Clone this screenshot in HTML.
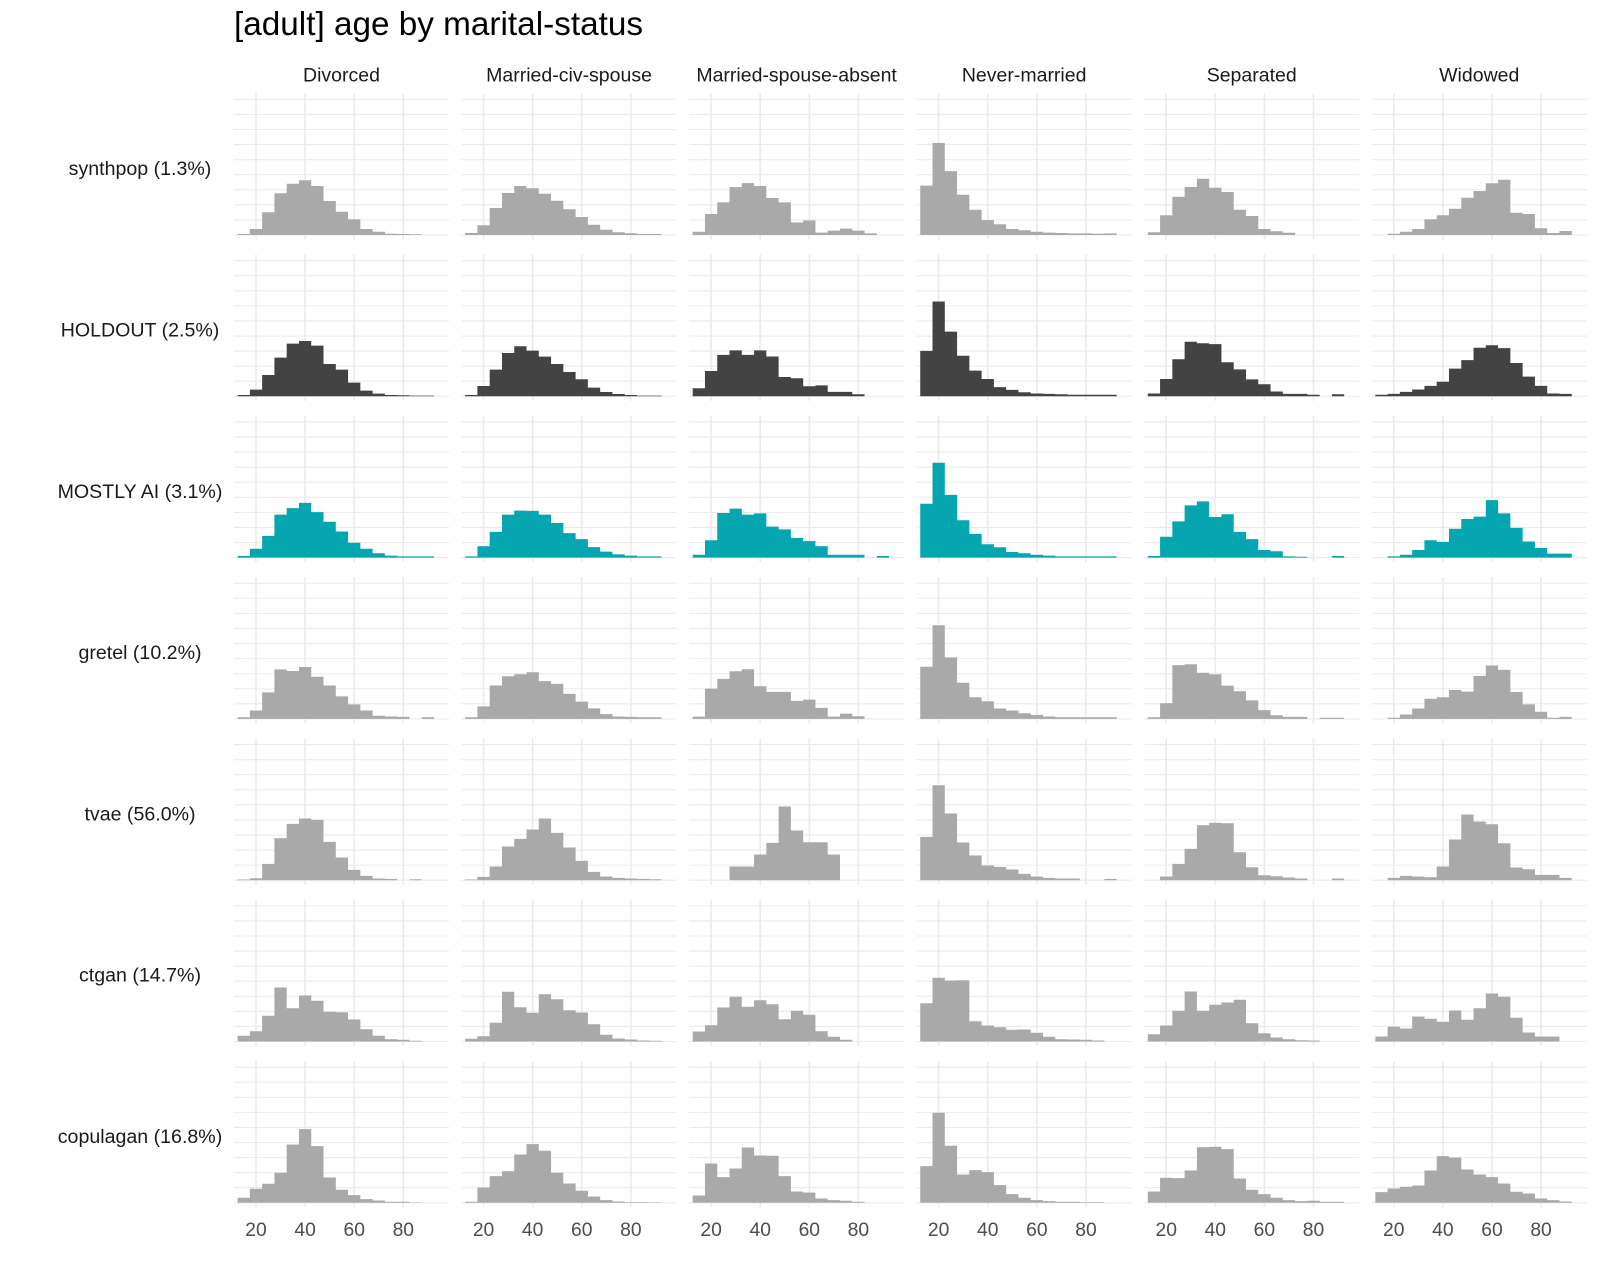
<!DOCTYPE html>
<html>
<head>
<meta charset="utf-8">
<style>
html,body{margin:0;padding:0;background:#fff;}
svg{display:block;}
text{font-family:"Liberation Sans",Arial,Helvetica,sans-serif;}
.h{stroke:#ebebeb;stroke-width:1.1;fill:none;}
.v{stroke:#ebebeb;stroke-width:1.6;fill:none;}
.s{fill:#a9a9a9;}
.d{fill:#434343;}
.m{fill:#05a6b0;}
.strip{font-size:19.5px;fill:#1a1a1a;text-anchor:middle;}
.row{font-size:19.6px;fill:#1a1a1a;text-anchor:middle;}
.tick{font-size:19.3px;fill:#4d4d4d;text-anchor:middle;}
</style>
</head>
<body>
<svg width="1600" height="1280" viewBox="0 0 1600 1280" xmlns="http://www.w3.org/2000/svg">
<rect width="1600" height="1280" fill="#fff"/>
<text x="234" y="35" font-size="33.3" fill="#000">[adult] age by marital-status</text>

<text class="strip" x="341.5" y="81.5">Divorced</text>
<text class="strip" x="569.05" y="81.5">Married-civ-spouse</text>
<text class="strip" x="796.6" y="81.5">Married-spouse-absent</text>
<text class="strip" x="1024.15" y="81.5">Never-married</text>
<text class="strip" x="1251.7" y="81.5">Separated</text>
<text class="strip" x="1479.25" y="81.5">Widowed</text>

<text class="row" x="140" y="175.2">synthpop (1.3%)</text>
<text class="row" x="140" y="336.5">HOLDOUT (2.5%)</text>
<text class="row" x="140" y="497.8">MOSTLY AI (3.1%)</text>
<text class="row" x="140" y="659.1">gretel (10.2%)</text>
<text class="row" x="140" y="820.4">tvae (56.0%)</text>
<text class="row" x="140" y="981.7">ctgan (14.7%)</text>
<text class="row" x="140" y="1143">copulagan (16.8%)</text>

<!-- Row 1 synthpop -->
<g transform="translate(256,235)"><path class="h" d="M-22 0H193M-22 -15.07H193M-22 -30.14H193M-22 -45.21H193M-22 -60.28H193M-22 -75.35H193M-22 -90.42H193M-22 -105.49H193M-22 -120.56H193M-22 -135.63H193"/><path class="v" d="M0 -141.7V4.4M49.1 -141.7V4.4M98.2 -141.7V4.4M147.3 -141.7V4.4"/><path class="s" transform="translate(-18.41 0) scale(12.275 -1)" d="M0 0V1H1V6H2V22.7H3V41.7H4V51.3H5V54.7H6V49H7V34H8V23.3H9V15.7H10V6H11V3.3H12V1.3H13V1H14V0.7H15V0H16V0Z"/></g>
<g transform="translate(483.55,235)"><path class="h" d="M-22 0H193M-22 -15.07H193M-22 -30.14H193M-22 -45.21H193M-22 -60.28H193M-22 -75.35H193M-22 -90.42H193M-22 -105.49H193M-22 -120.56H193M-22 -135.63H193"/><path class="v" d="M0 -141.7V4.4M49.1 -141.7V4.4M98.2 -141.7V4.4M147.3 -141.7V4.4"/><path class="s" transform="translate(-18.41 0) scale(12.275 -1)" d="M0 0V2H1V9.7H2V27H3V42H4V49H5V46.7H6V41.3H7V34.3H8V25.7H9V18H10V10.3H11V5.3H12V2.7H13V1.7H14V1H15V1H16V0Z"/></g>
<g transform="translate(711.1,235)"><path class="h" d="M-22 0H193M-22 -15.07H193M-22 -30.14H193M-22 -45.21H193M-22 -60.28H193M-22 -75.35H193M-22 -90.42H193M-22 -105.49H193M-22 -120.56H193M-22 -135.63H193"/><path class="v" d="M0 -141.7V4.4M49.1 -141.7V4.4M98.2 -141.7V4.4M147.3 -141.7V4.4"/><path class="s" transform="translate(-18.41 0) scale(12.275 -1)" d="M0 0V3.2H1V21H2V32.6H3V47.9H4V51.9H5V49H6V37H7V32.6H8V12.5H9V14.5H10V2.4H11V4.4H12V6.4H13V4.4H14V1.6H15V0Z"/></g>
<g transform="translate(938.65,235)"><path class="h" d="M-22 0H193M-22 -15.07H193M-22 -30.14H193M-22 -45.21H193M-22 -60.28H193M-22 -75.35H193M-22 -90.42H193M-22 -105.49H193M-22 -120.56H193M-22 -135.63H193"/><path class="v" d="M0 -141.7V4.4M49.1 -141.7V4.4M98.2 -141.7V4.4M147.3 -141.7V4.4"/><path class="s" transform="translate(-18.41 0) scale(12.275 -1)" d="M0 0V49.4H1V92H2V63.9H3V40.2H4V25.3H5V14.9H6V10.8H7V6H8V4.8H9V3.2H10V2.4H11V2H12V1.6H13V1.6H14V1.2H15V1.6H16V0Z"/></g>
<g transform="translate(1166.2,235)"><path class="h" d="M-22 0H193M-22 -15.07H193M-22 -30.14H193M-22 -45.21H193M-22 -60.28H193M-22 -75.35H193M-22 -90.42H193M-22 -105.49H193M-22 -120.56H193M-22 -135.63H193"/><path class="v" d="M0 -141.7V4.4M49.1 -141.7V4.4M98.2 -141.7V4.4M147.3 -141.7V4.4"/><path class="s" transform="translate(-18.41 0) scale(12.275 -1)" d="M0 0V2.7H1V19.7H2V38.3H3V48H4V56.3H5V47.3H6V43H7V25.3H8V19H9V6H10V3.7H11V2.3H12V0Z"/></g>
<g transform="translate(1393.75,235)"><path class="h" d="M-22 0H193M-22 -15.07H193M-22 -30.14H193M-22 -45.21H193M-22 -60.28H193M-22 -75.35H193M-22 -90.42H193M-22 -105.49H193M-22 -120.56H193M-22 -135.63H193"/><path class="v" d="M0 -141.7V4.4M49.1 -141.7V4.4M98.2 -141.7V4.4M147.3 -141.7V4.4"/><path class="s" transform="translate(-18.41 0) scale(12.275 -1)" d="M1 0V1.3H2V3.3H3V6H4V15.7H5V19.7H6V26.3H7V37.3H8V44H9V51.7H10V55.3H11V22.3H12V21H13V6.7H14V2H15V4H16V0Z"/></g>

<!-- Row 2 HOLDOUT -->
<g transform="translate(256,396.3)"><path class="h" d="M-22 0H193M-22 -15.07H193M-22 -30.14H193M-22 -45.21H193M-22 -60.28H193M-22 -75.35H193M-22 -90.42H193M-22 -105.49H193M-22 -120.56H193M-22 -135.63H193"/><path class="v" d="M0 -141.7V4.4M49.1 -141.7V4.4M98.2 -141.7V4.4M147.3 -141.7V4.4"/><path class="d" transform="translate(-18.41 0) scale(12.275 -1)" d="M0 0V1.3H1V6.7H2V21.3H3V38.7H4V52.7H5V55.3H6V50.7H7V32.3H8V26.7H9V13.7H10V5.7H11V2.7H12V1.3H13V1H14V0.7H16V0Z"/></g>
<g transform="translate(483.55,396.3)"><path class="h" d="M-22 0H193M-22 -15.07H193M-22 -30.14H193M-22 -45.21H193M-22 -60.28H193M-22 -75.35H193M-22 -90.42H193M-22 -105.49H193M-22 -120.56H193M-22 -135.63H193"/><path class="v" d="M0 -141.7V4.4M49.1 -141.7V4.4M98.2 -141.7V4.4M147.3 -141.7V4.4"/><path class="d" transform="translate(-18.41 0) scale(12.275 -1)" d="M0 0V1.3H1V10.3H2V26.7H3V43.3H4V50H5V45.7H6V39.7H7V32.3H8V24.3H9V17H10V8.7H11V4.3H12V2.3H13V1.3H14V0.7H16V0Z"/></g>
<g transform="translate(711.1,396.3)"><path class="h" d="M-22 0H193M-22 -15.07H193M-22 -30.14H193M-22 -45.21H193M-22 -60.28H193M-22 -75.35H193M-22 -90.42H193M-22 -105.49H193M-22 -120.56H193M-22 -135.63H193"/><path class="v" d="M0 -141.7V4.4M49.1 -141.7V4.4M98.2 -141.7V4.4M147.3 -141.7V4.4"/><path class="d" transform="translate(-18.41 0) scale(12.275 -1)" d="M0 0V8H1V25.3H2V41.4H3V45.9H4V41.4H5V45.9H6V39.8H7V19.3H8V18.1H9V10H10V10.9H11V4.4H13V2H14V0Z"/></g>
<g transform="translate(938.65,396.3)"><path class="h" d="M-22 0H193M-22 -15.07H193M-22 -30.14H193M-22 -45.21H193M-22 -60.28H193M-22 -75.35H193M-22 -90.42H193M-22 -105.49H193M-22 -120.56H193M-22 -135.63H193"/><path class="v" d="M0 -141.7V4.4M49.1 -141.7V4.4M98.2 -141.7V4.4M147.3 -141.7V4.4"/><path class="d" transform="translate(-18.41 0) scale(12.275 -1)" d="M0 0V45.4H1V94.8H2V64.7H3V40.6H4V25.7H5V17.3H6V9.2H7V6.4H8V4H9V2.8H10V2.4H11V2H12V1.6H16V0Z"/></g>
<g transform="translate(1166.2,396.3)"><path class="h" d="M-22 0H193M-22 -15.07H193M-22 -30.14H193M-22 -45.21H193M-22 -60.28H193M-22 -75.35H193M-22 -90.42H193M-22 -105.49H193M-22 -120.56H193M-22 -135.63H193"/><path class="v" d="M0 -141.7V4.4M49.1 -141.7V4.4M98.2 -141.7V4.4M147.3 -141.7V4.4"/><path class="d" transform="translate(-18.41 0) scale(12.275 -1)" d="M0 0V2.8H1V17.3H2V37H3V54.6H4V53H5V52.2H6V34.1H7V26.9H8V16.9H9V12H10V4.8H11V2.4H13V1.6H14V0H15V2H16V0Z"/></g>
<g transform="translate(1393.75,396.3)"><path class="h" d="M-22 0H193M-22 -15.07H193M-22 -30.14H193M-22 -45.21H193M-22 -60.28H193M-22 -75.35H193M-22 -90.42H193M-22 -105.49H193M-22 -120.56H193M-22 -135.63H193"/><path class="v" d="M0 -141.7V4.4M49.1 -141.7V4.4M98.2 -141.7V4.4M147.3 -141.7V4.4"/><path class="d" transform="translate(-18.41 0) scale(12.275 -1)" d="M0 0V1.6H1V2.4H2V4.4H3V6.8H4V10.4H5V14.5H6V27.7H7V36.2H8V48.6H9V51H10V48.2H11V33.3H12V19.7H13V10.4H14V2.8H15V2.4H16V0Z"/></g>

<!-- Row 3 MOSTLY AI -->
<g transform="translate(256,557.6)"><path class="h" d="M-22 0H193M-22 -15.07H193M-22 -30.14H193M-22 -45.21H193M-22 -60.28H193M-22 -75.35H193M-22 -90.42H193M-22 -105.49H193M-22 -120.56H193M-22 -135.63H193"/><path class="v" d="M0 -141.7V4.4M49.1 -141.7V4.4M98.2 -141.7V4.4M147.3 -141.7V4.4"/><path class="m" transform="translate(-18.41 0) scale(12.275 -1)" d="M0 0V1.6H1V8.8H2V21.7H3V43H4V49.5H5V54.7H6V45.5H7V35.8H8V26.1H9V14.9H10V8.8H11V4.4H12V2H13V1.2H16V0Z"/></g>
<g transform="translate(483.55,557.6)"><path class="h" d="M-22 0H193M-22 -15.07H193M-22 -30.14H193M-22 -45.21H193M-22 -60.28H193M-22 -75.35H193M-22 -90.42H193M-22 -105.49H193M-22 -120.56H193M-22 -135.63H193"/><path class="v" d="M0 -141.7V4.4M49.1 -141.7V4.4M98.2 -141.7V4.4M147.3 -141.7V4.4"/><path class="m" transform="translate(-18.41 0) scale(12.275 -1)" d="M0 0V1.2H1V11.3H2V25.7H3V43H4V47H5V46.7H6V43H7V34.6H8V24.5H9V18.5H10V10.5H11V6H12V3.2H13V2H14V1.2H16V0Z"/></g>
<g transform="translate(711.1,557.6)"><path class="h" d="M-22 0H193M-22 -15.07H193M-22 -30.14H193M-22 -45.21H193M-22 -60.28H193M-22 -75.35H193M-22 -90.42H193M-22 -105.49H193M-22 -120.56H193M-22 -135.63H193"/><path class="v" d="M0 -141.7V4.4M49.1 -141.7V4.4M98.2 -141.7V4.4M147.3 -141.7V4.4"/><path class="m" transform="translate(-18.41 0) scale(12.275 -1)" d="M0 0V2.8H1V17.3H2V44.6H3V49H4V43H5V44.2H6V31H7V28.2H8V19.7H9V16.5H10V11.3H11V2.8H14V0H15V1.6H16V0Z"/></g>
<g transform="translate(938.65,557.6)"><path class="h" d="M-22 0H193M-22 -15.07H193M-22 -30.14H193M-22 -45.21H193M-22 -60.28H193M-22 -75.35H193M-22 -90.42H193M-22 -105.49H193M-22 -120.56H193M-22 -135.63H193"/><path class="v" d="M0 -141.7V4.4M49.1 -141.7V4.4M98.2 -141.7V4.4M147.3 -141.7V4.4"/><path class="m" transform="translate(-18.41 0) scale(12.275 -1)" d="M0 0V53.8H1V94.8H2V62.7H3V37.4H4V23.7H5V13.3H6V10.4H7V5.6H8V4.4H9V2.8H10V2H11V1.2H16V0Z"/></g>
<g transform="translate(1166.2,557.6)"><path class="h" d="M-22 0H193M-22 -15.07H193M-22 -30.14H193M-22 -45.21H193M-22 -60.28H193M-22 -75.35H193M-22 -90.42H193M-22 -105.49H193M-22 -120.56H193M-22 -135.63H193"/><path class="v" d="M0 -141.7V4.4M49.1 -141.7V4.4M98.2 -141.7V4.4M147.3 -141.7V4.4"/><path class="m" transform="translate(-18.41 0) scale(12.275 -1)" d="M0 0V1.6H1V20.9H2V36.2H3V52.2H4V56.2H5V40.6H6V43.4H7V25.7H8V18.5H9V7.6H10V6.4H11V1.2H12V0.8H13V0H15V1.6H16V0Z"/></g>
<g transform="translate(1393.75,557.6)"><path class="h" d="M-22 0H193M-22 -15.07H193M-22 -30.14H193M-22 -45.21H193M-22 -60.28H193M-22 -75.35H193M-22 -90.42H193M-22 -105.49H193M-22 -120.56H193M-22 -135.63H193"/><path class="v" d="M0 -141.7V4.4M49.1 -141.7V4.4M98.2 -141.7V4.4M147.3 -141.7V4.4"/><path class="m" transform="translate(-18.41 0) scale(12.275 -1)" d="M1 0V1.2H2V2.8H3V7.6H4V17.3H5V15.7H6V28.9H7V38.6H8V41H9V57.5H10V44.2H11V29.7H12V16.1H13V9.6H14V4H16V0Z"/></g>

<!-- Row 4 gretel -->
<g transform="translate(256,718.9)"><path class="h" d="M-22 0H193M-22 -15.07H193M-22 -30.14H193M-22 -45.21H193M-22 -60.28H193M-22 -75.35H193M-22 -90.42H193M-22 -105.49H193M-22 -120.56H193M-22 -135.63H193"/><path class="v" d="M0 -141.7V4.4M49.1 -141.7V4.4M98.2 -141.7V4.4M147.3 -141.7V4.4"/><path class="s" transform="translate(-18.41 0) scale(12.275 -1)" d="M0 0V1.6H1V8.4H2V26.5H3V49.5H4V47.9H5V51.9H6V42.2H7V33.4H8V22.5H9V14.5H10V8.4H11V3.2H12V2.4H13V2H14V0H15V1.6H16V0Z"/></g>
<g transform="translate(483.55,718.9)"><path class="h" d="M-22 0H193M-22 -15.07H193M-22 -30.14H193M-22 -45.21H193M-22 -60.28H193M-22 -75.35H193M-22 -90.42H193M-22 -105.49H193M-22 -120.56H193M-22 -135.63H193"/><path class="v" d="M0 -141.7V4.4M49.1 -141.7V4.4M98.2 -141.7V4.4M147.3 -141.7V4.4"/><path class="s" transform="translate(-18.41 0) scale(12.275 -1)" d="M0 0V1.6H1V12.5H2V33.4H3V42.6H4V44.6H5V46.7H6V37.8H7V35H8V25H9V17.3H10V10.5H11V4.8H12V2.4H13V2H14V1.6H16V0Z"/></g>
<g transform="translate(711.1,718.9)"><path class="h" d="M-22 0H193M-22 -15.07H193M-22 -30.14H193M-22 -45.21H193M-22 -60.28H193M-22 -75.35H193M-22 -90.42H193M-22 -105.49H193M-22 -120.56H193M-22 -135.63H193"/><path class="v" d="M0 -141.7V4.4M49.1 -141.7V4.4M98.2 -141.7V4.4M147.3 -141.7V4.4"/><path class="s" transform="translate(-18.41 0) scale(12.275 -1)" d="M0 0V2.3H1V30.3H2V40H3V47.7H4V49.7H5V32.7H6V27H8V18H9V19.3H10V11H11V2.3H12V5.3H13V2.7H14V0Z"/></g>
<g transform="translate(938.65,718.9)"><path class="h" d="M-22 0H193M-22 -15.07H193M-22 -30.14H193M-22 -45.21H193M-22 -60.28H193M-22 -75.35H193M-22 -90.42H193M-22 -105.49H193M-22 -120.56H193M-22 -135.63H193"/><path class="v" d="M0 -141.7V4.4M49.1 -141.7V4.4M98.2 -141.7V4.4M147.3 -141.7V4.4"/><path class="s" transform="translate(-18.41 0) scale(12.275 -1)" d="M0 0V52.2H1V93.6H2V61.5H3V36.2H4V21.7H5V17.7H6V10.4H7V8.4H8V5.6H9V4H10V2.4H11V1.6H16V0Z"/></g>
<g transform="translate(1166.2,718.9)"><path class="h" d="M-22 0H193M-22 -15.07H193M-22 -30.14H193M-22 -45.21H193M-22 -60.28H193M-22 -75.35H193M-22 -90.42H193M-22 -105.49H193M-22 -120.56H193M-22 -135.63H193"/><path class="v" d="M0 -141.7V4.4M49.1 -141.7V4.4M98.2 -141.7V4.4M147.3 -141.7V4.4"/><path class="s" transform="translate(-18.41 0) scale(12.275 -1)" d="M0 0V1.6H1V15.7H2V53.8H3V54.6H4V46.2H5V44.6H6V33.3H7V27.7H8V18.5H9V8.8H10V3.6H11V2H13V0H14V1.2H16V0Z"/></g>
<g transform="translate(1393.75,718.9)"><path class="h" d="M-22 0H193M-22 -15.07H193M-22 -30.14H193M-22 -45.21H193M-22 -60.28H193M-22 -75.35H193M-22 -90.42H193M-22 -105.49H193M-22 -120.56H193M-22 -135.63H193"/><path class="v" d="M0 -141.7V4.4M49.1 -141.7V4.4M98.2 -141.7V4.4M147.3 -141.7V4.4"/><path class="s" transform="translate(-18.41 0) scale(12.275 -1)" d="M1 0V1.2H2V4.4H3V10.4H4V20.1H5V21.7H6V28.9H7V27.3H8V43H9V53.4H10V49H11V26.9H12V14.5H13V7.2H14V1.2H15V2H16V0Z"/></g>

<!-- Row 5 tvae -->
<g transform="translate(256,880.2)"><path class="h" d="M-22 0H193M-22 -15.07H193M-22 -30.14H193M-22 -45.21H193M-22 -60.28H193M-22 -75.35H193M-22 -90.42H193M-22 -105.49H193M-22 -120.56H193M-22 -135.63H193"/><path class="v" d="M0 -141.7V4.4M49.1 -141.7V4.4M98.2 -141.7V4.4M147.3 -141.7V4.4"/><path class="s" transform="translate(-18.41 0) scale(12.275 -1)" d="M0 0V0.7H1V2H2V16.3H3V42H4V56.3H5V61.7H6V60.3H7V38.3H8V22.7H9V10.3H10V4.3H11V1.7H12V1.3H13V0H14V1H15V0Z"/></g>
<g transform="translate(483.55,880.2)"><path class="h" d="M-22 0H193M-22 -15.07H193M-22 -30.14H193M-22 -45.21H193M-22 -60.28H193M-22 -75.35H193M-22 -90.42H193M-22 -105.49H193M-22 -120.56H193M-22 -135.63H193"/><path class="v" d="M0 -141.7V4.4M49.1 -141.7V4.4M98.2 -141.7V4.4M147.3 -141.7V4.4"/><path class="s" transform="translate(-18.41 0) scale(12.275 -1)" d="M0 0V0.7H1V3.3H2V13.7H3V33.7H4V41.3H5V50.7H6V61.7H7V47.3H8V32.7H9V19.3H10V8.3H11V3.7H12V2.3H13V1.7H14V1.3H15V1H16V0Z"/></g>
<g transform="translate(711.1,880.2)"><path class="h" d="M-22 0H193M-22 -15.07H193M-22 -30.14H193M-22 -45.21H193M-22 -60.28H193M-22 -75.35H193M-22 -90.42H193M-22 -105.49H193M-22 -120.56H193M-22 -135.63H193"/><path class="v" d="M0 -141.7V4.4M49.1 -141.7V4.4M98.2 -141.7V4.4M147.3 -141.7V4.4"/><path class="s" transform="translate(-18.41 0) scale(12.275 -1)" d="M3 0V13.7H5V25.7H6V37.3H7V73.7H8V49.7H9V38H11V25.7H12V0Z"/></g>
<g transform="translate(938.65,880.2)"><path class="h" d="M-22 0H193M-22 -15.07H193M-22 -30.14H193M-22 -45.21H193M-22 -60.28H193M-22 -75.35H193M-22 -90.42H193M-22 -105.49H193M-22 -120.56H193M-22 -135.63H193"/><path class="v" d="M0 -141.7V4.4M49.1 -141.7V4.4M98.2 -141.7V4.4M147.3 -141.7V4.4"/><path class="s" transform="translate(-18.41 0) scale(12.275 -1)" d="M0 0V43.3H1V95H2V66.7H3V37.7H4V24.7H5V14.7H6V13.3H7V10.7H8V6.3H9V3.7H10V2.3H11V1.7H13V0H15V1.3H16V0Z"/></g>
<g transform="translate(1166.2,880.2)"><path class="h" d="M-22 0H193M-22 -15.07H193M-22 -30.14H193M-22 -45.21H193M-22 -60.28H193M-22 -75.35H193M-22 -90.42H193M-22 -105.49H193M-22 -120.56H193M-22 -135.63H193"/><path class="v" d="M0 -141.7V4.4M49.1 -141.7V4.4M98.2 -141.7V4.4M147.3 -141.7V4.4"/><path class="s" transform="translate(-18.41 0) scale(12.275 -1)" d="M1 0V3.7H2V16.3H3V31.3H4V55H5V57.3H6V57H7V28H8V13H9V5H10V4H11V2.7H12V1.7H13V0H15V1.7H16V0Z"/></g>
<g transform="translate(1393.75,880.2)"><path class="h" d="M-22 0H193M-22 -15.07H193M-22 -30.14H193M-22 -45.21H193M-22 -60.28H193M-22 -75.35H193M-22 -90.42H193M-22 -105.49H193M-22 -120.56H193M-22 -135.63H193"/><path class="v" d="M0 -141.7V4.4M49.1 -141.7V4.4M98.2 -141.7V4.4M147.3 -141.7V4.4"/><path class="s" transform="translate(-18.41 0) scale(12.275 -1)" d="M1 0V2.3H2V4.3H3V3.7H4V3H5V13.7H6V40.7H7V65.7H8V58.7H9V56H10V37H11V12.7H12V11H13V5.3H15V2.3H16V0Z"/></g>

<!-- Row 6 ctgan -->
<g transform="translate(256,1041.5)"><path class="h" d="M-22 0H193M-22 -15.07H193M-22 -30.14H193M-22 -45.21H193M-22 -60.28H193M-22 -75.35H193M-22 -90.42H193M-22 -105.49H193M-22 -120.56H193M-22 -135.63H193"/><path class="v" d="M0 -141.7V4.4M49.1 -141.7V4.4M98.2 -141.7V4.4M147.3 -141.7V4.4"/><path class="s" transform="translate(-18.41 0) scale(12.275 -1)" d="M0 0V5.7H1V10.3H2V25.7H3V54H4V33.3H5V46H6V40.7H7V29.7H8V29.3H9V22H10V12.3H11V5.7H12V2.3H13V1.7H14V0.7H15V0Z"/></g>
<g transform="translate(483.55,1041.5)"><path class="h" d="M-22 0H193M-22 -15.07H193M-22 -30.14H193M-22 -45.21H193M-22 -60.28H193M-22 -75.35H193M-22 -90.42H193M-22 -105.49H193M-22 -120.56H193M-22 -135.63H193"/><path class="v" d="M0 -141.7V4.4M49.1 -141.7V4.4M98.2 -141.7V4.4M147.3 -141.7V4.4"/><path class="s" transform="translate(-18.41 0) scale(12.275 -1)" d="M0 0V2.7H1V5.3H2V18.7H3V49.7H4V34.3H5V28.7H6V47.3H7V42.3H8V31.3H9V29H10V17.3H11V6.7H12V3H13V2H14V1H15V0.7H16V0Z"/></g>
<g transform="translate(711.1,1041.5)"><path class="h" d="M-22 0H193M-22 -15.07H193M-22 -30.14H193M-22 -45.21H193M-22 -60.28H193M-22 -75.35H193M-22 -90.42H193M-22 -105.49H193M-22 -120.56H193M-22 -135.63H193"/><path class="v" d="M0 -141.7V4.4M49.1 -141.7V4.4M98.2 -141.7V4.4M147.3 -141.7V4.4"/><path class="s" transform="translate(-18.41 0) scale(12.275 -1)" d="M0 0V10H1V16.3H2V34H3V44.7H4V34.7H5V41.3H6V37.3H7V22.3H8V30.7H9V26.7H10V10.3H11V4.7H12V1.7H13V0Z"/></g>
<g transform="translate(938.65,1041.5)"><path class="h" d="M-22 0H193M-22 -15.07H193M-22 -30.14H193M-22 -45.21H193M-22 -60.28H193M-22 -75.35H193M-22 -90.42H193M-22 -105.49H193M-22 -120.56H193M-22 -135.63H193"/><path class="v" d="M0 -141.7V4.4M49.1 -141.7V4.4M98.2 -141.7V4.4M147.3 -141.7V4.4"/><path class="s" transform="translate(-18.41 0) scale(12.275 -1)" d="M0 0V38.3H1V63.7H2V61H3V61.3H4V20.3H5V16H6V14.3H7V11.7H8V12H9V8.7H10V4.7H11V2.3H12V2H13V1.7H14V1H15V0Z"/></g>
<g transform="translate(1166.2,1041.5)"><path class="h" d="M-22 0H193M-22 -15.07H193M-22 -30.14H193M-22 -45.21H193M-22 -60.28H193M-22 -75.35H193M-22 -90.42H193M-22 -105.49H193M-22 -120.56H193M-22 -135.63H193"/><path class="v" d="M0 -141.7V4.4M49.1 -141.7V4.4M98.2 -141.7V4.4M147.3 -141.7V4.4"/><path class="s" transform="translate(-18.41 0) scale(12.275 -1)" d="M0 0V7.3H1V16H2V30.7H3V50H4V30.7H5V36.7H6V39H7V41.7H8V18.3H9V8.3H10V4H11V2.3H12V1.3H13V1H14V0Z"/></g>
<g transform="translate(1393.75,1041.5)"><path class="h" d="M-22 0H193M-22 -15.07H193M-22 -30.14H193M-22 -45.21H193M-22 -60.28H193M-22 -75.35H193M-22 -90.42H193M-22 -105.49H193M-22 -120.56H193M-22 -135.63H193"/><path class="v" d="M0 -141.7V4.4M49.1 -141.7V4.4M98.2 -141.7V4.4M147.3 -141.7V4.4"/><path class="s" transform="translate(-18.41 0) scale(12.275 -1)" d="M0 0V5H1V14.7H2V13H3V25H4V22.7H5V19.7H6V31H7V21.7H8V33.3H9V48H10V44.7H11V23.7H12V9H13V5H15V0Z"/></g>

<!-- Row 7 copulagan -->
<g transform="translate(256,1202.8)"><path class="h" d="M-22 0H193M-22 -15.07H193M-22 -30.14H193M-22 -45.21H193M-22 -60.28H193M-22 -75.35H193M-22 -90.42H193M-22 -105.49H193M-22 -120.56H193M-22 -135.63H193"/><path class="v" d="M0 -141.7V4.4M49.1 -141.7V4.4M98.2 -141.7V4.4M147.3 -141.7V4.4"/><path class="s" transform="translate(-18.41 0) scale(12.275 -1)" d="M0 0V5H1V14H2V19H3V30H4V58.3H5V73.7H6V56.7H7V25.3H8V13H9V7.7H10V3.7H11V2.3H12V1H14V0.4H15V0Z"/></g>
<g transform="translate(483.55,1202.8)"><path class="h" d="M-22 0H193M-22 -15.07H193M-22 -30.14H193M-22 -45.21H193M-22 -60.28H193M-22 -75.35H193M-22 -90.42H193M-22 -105.49H193M-22 -120.56H193M-22 -135.63H193"/><path class="v" d="M0 -141.7V4.4M49.1 -141.7V4.4M98.2 -141.7V4.4M147.3 -141.7V4.4"/><path class="s" transform="translate(-18.41 0) scale(12.275 -1)" d="M0 0V1H1V15.3H2V26.7H3V31.7H4V48.3H5V58.7H6V52H7V30H8V19.3H9V12H10V6.3H11V2.7H12V1.3H13V0.7H15V0.4H16V0Z"/></g>
<g transform="translate(711.1,1202.8)"><path class="h" d="M-22 0H193M-22 -15.07H193M-22 -30.14H193M-22 -45.21H193M-22 -60.28H193M-22 -75.35H193M-22 -90.42H193M-22 -105.49H193M-22 -120.56H193M-22 -135.63H193"/><path class="v" d="M0 -141.7V4.4M49.1 -141.7V4.4M98.2 -141.7V4.4M147.3 -141.7V4.4"/><path class="s" transform="translate(-18.41 0) scale(12.275 -1)" d="M0 0V7.3H1V39.3H2V25.7H3V34.3H4V55.3H5V47.3H6V47H7V26.7H8V11.3H9V10.3H10V4.3H11V2.7H12V2H13V1H14V0Z"/></g>
<g transform="translate(938.65,1202.8)"><path class="h" d="M-22 0H193M-22 -15.07H193M-22 -30.14H193M-22 -45.21H193M-22 -60.28H193M-22 -75.35H193M-22 -90.42H193M-22 -105.49H193M-22 -120.56H193M-22 -135.63H193"/><path class="v" d="M0 -141.7V4.4M49.1 -141.7V4.4M98.2 -141.7V4.4M147.3 -141.7V4.4"/><path class="s" transform="translate(-18.41 0) scale(12.275 -1)" d="M0 0V36.7H1V90H2V57H3V28.3H4V32.7H5V30.7H6V17.7H7V8.7H8V5H9V2.7H10V1.7H11V1H13V0.7H15V0Z"/></g>
<g transform="translate(1166.2,1202.8)"><path class="h" d="M-22 0H193M-22 -15.07H193M-22 -30.14H193M-22 -45.21H193M-22 -60.28H193M-22 -75.35H193M-22 -90.42H193M-22 -105.49H193M-22 -120.56H193M-22 -135.63H193"/><path class="v" d="M0 -141.7V4.4M49.1 -141.7V4.4M98.2 -141.7V4.4M147.3 -141.7V4.4"/><path class="s" transform="translate(-18.41 0) scale(12.275 -1)" d="M0 0V11.3H1V25H2V24.7H3V32.3H4V55.7H5V56H6V53.7H7V24.3H8V13H9V8.7H10V5H11V2.7H12V1.7H13V2H14V1H16V0Z"/></g>
<g transform="translate(1393.75,1202.8)"><path class="h" d="M-22 0H193M-22 -15.07H193M-22 -30.14H193M-22 -45.21H193M-22 -60.28H193M-22 -75.35H193M-22 -90.42H193M-22 -105.49H193M-22 -120.56H193M-22 -135.63H193"/><path class="v" d="M0 -141.7V4.4M49.1 -141.7V4.4M98.2 -141.7V4.4M147.3 -141.7V4.4"/><path class="s" transform="translate(-18.41 0) scale(12.275 -1)" d="M0 0V10.7H1V14.3H2V16H3V17.3H4V32.3H5V46.7H6V45.3H7V33.3H8V28.3H9V25.7H10V19.3H11V11H12V9.3H13V4.3H14V2.7H15V1.3H16V0Z"/></g>

<!-- x tick labels -->
<g>
<text class="tick" x="256" y="1236">20</text><text class="tick" x="305.1" y="1236">40</text><text class="tick" x="354.2" y="1236">60</text><text class="tick" x="403.3" y="1236">80</text>
<text class="tick" x="483.55" y="1236">20</text><text class="tick" x="532.65" y="1236">40</text><text class="tick" x="581.75" y="1236">60</text><text class="tick" x="630.85" y="1236">80</text>
<text class="tick" x="711.1" y="1236">20</text><text class="tick" x="760.2" y="1236">40</text><text class="tick" x="809.3" y="1236">60</text><text class="tick" x="858.4" y="1236">80</text>
<text class="tick" x="938.65" y="1236">20</text><text class="tick" x="987.75" y="1236">40</text><text class="tick" x="1036.85" y="1236">60</text><text class="tick" x="1085.95" y="1236">80</text>
<text class="tick" x="1166.2" y="1236">20</text><text class="tick" x="1215.3" y="1236">40</text><text class="tick" x="1264.4" y="1236">60</text><text class="tick" x="1313.5" y="1236">80</text>
<text class="tick" x="1393.75" y="1236">20</text><text class="tick" x="1442.85" y="1236">40</text><text class="tick" x="1491.95" y="1236">60</text><text class="tick" x="1541.05" y="1236">80</text>
</g>
</svg>
</body>
</html>
